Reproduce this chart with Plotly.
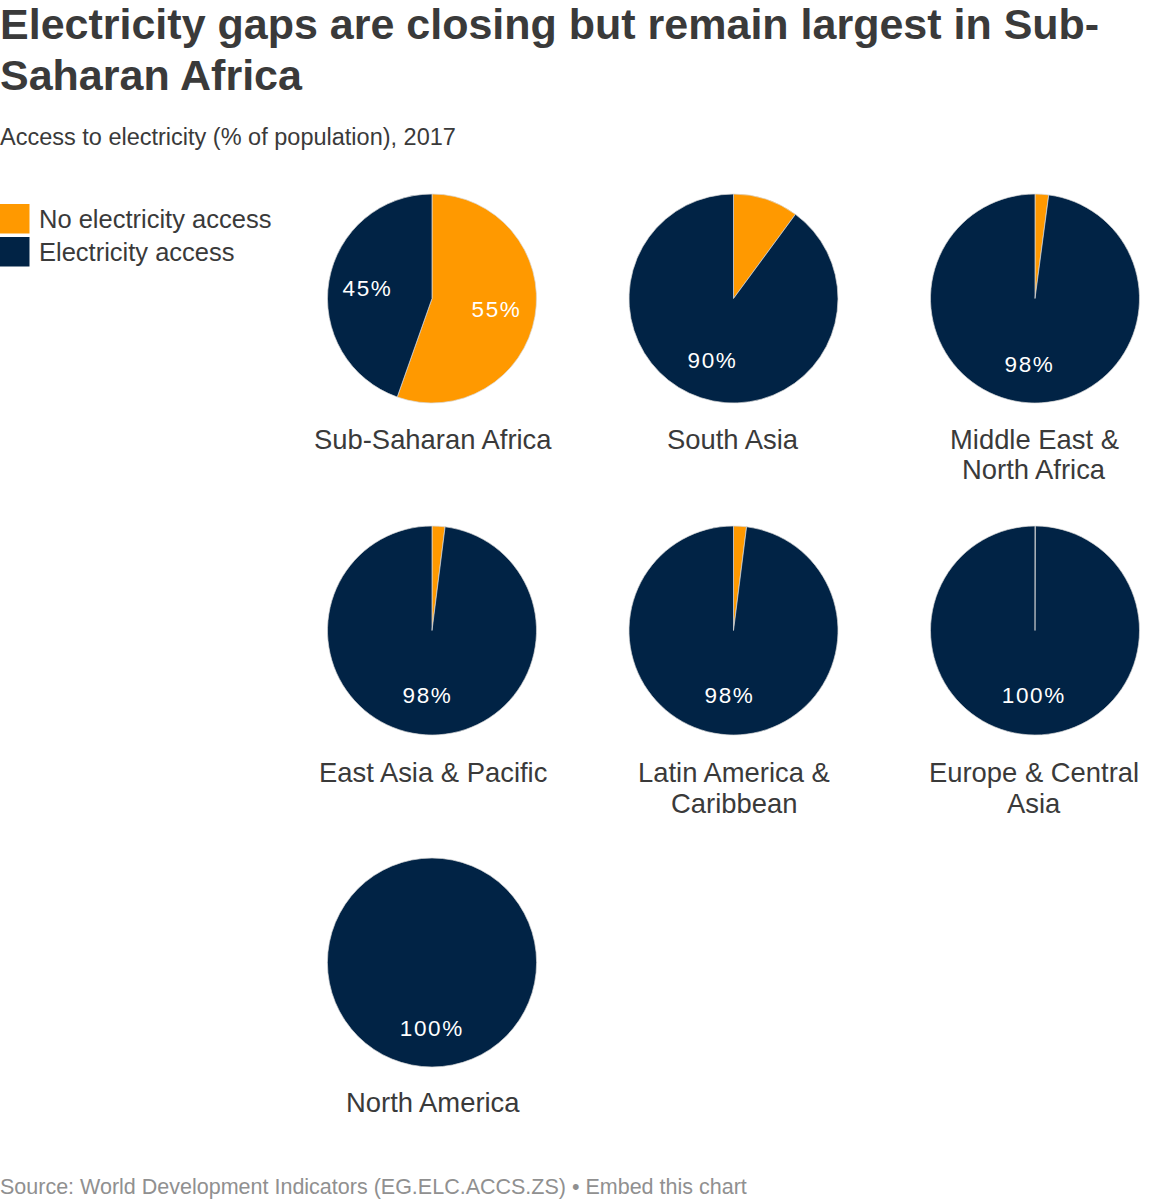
import plotly.graph_objects as go

region_lines = [["Sub-Saharan Africa"], ["South Asia"], ["Middle East &", "North Africa"], ["East Asia & Pacific"],
                ["Latin America &", "Caribbean"], ["Europe & Central", "Asia"], ["North America"]]
no_access = [55.4, 10.1, 2.1, 2, 2, 0.05, 0]
access = [44.6, 89.9, 97.9, 98, 98, 99.95, 100]
value_labels = [["55%", "45%"], ["90%"], ["98%"], ["98%"], ["98%"], ["100%"], ["100%"]]
series_names = ["No electricity access", "Electricity access"]
colors = ["#ff9900", "#012345"]

W, H = 1175, 1200
centers = [(432, 298.5), (733.5, 298.5), (1035, 298.5), (432, 630.5), (733.5, 630.5), (1035, 630.5), (432, 962.5)]
label_xy = [[(496.5, 310), (367.5, 288)], [(712.5, 361)], [(1029.5, 364)], [(427.5, 695)], [(729, 695)], [(1034, 695)], [(432, 1028)]]
caption_x = [432.5, 733, 1034, 432.5, 733.5, 1034, 432.5]
caption_y = [439, 439, 439, 772, 772, 772, 1102]
R = 104.5


def note(x, y, text, size, color, anchor="center", family="Liberation Sans"):
    fig.add_annotation(x=x / W, y=1 - y / H, xref="paper", yref="paper", text=text, showarrow=False,
                       xanchor=anchor, yanchor="middle", align=anchor,
                       font=dict(size=size, color=color, family=family))


fig = go.Figure()
for i, (cx, cy) in enumerate(centers):
    fig.add_trace(go.Pie(
        labels=series_names, values=[no_access[i], access[i]],
        textinfo="none", sort=False, direction="clockwise", rotation=0,
        marker=dict(colors=colors, line=dict(color="#d9d9d9", width=0.7)),
        domain=dict(x=[(cx - R) / W, (cx + R) / W], y=[1 - (cy + R) / H, 1 - (cy - R) / H]),
        showlegend=False, hoverinfo="label+value",
    ))
    for (lx, ly), t in zip(label_xy[i], value_labels[i]):
        note(lx, ly, t, 22.5, "#ffffff")
    for j, line in enumerate(region_lines[i]):
        note(caption_x[i], caption_y[i] + 31 * j, line, 27.4, "#3a3a3a")

note(-2, 24, "<b>Electricity gaps are closing but remain largest in Sub-</b>", 43, "#3a3a3a", "left")
note(-2, 75, "<b>Saharan Africa</b>", 43, "#3a3a3a", "left")
note(-2, 137, "Access to electricity (% of population), 2017", 23.5, "#3a3a3a", "left")
note(37, 219, series_names[0], 25.5, "#3a3a3a", "left")
note(37, 252, series_names[1], 25.5, "#3a3a3a", "left")
note(-2, 1187, "Source: World Development Indicators (EG.ELC.ACCS.ZS) • Embed this chart", 21.5, "#909090", "left")

for y0, c in [(204, colors[0]), (237, colors[1])]:
    fig.add_shape(type="rect", xref="paper", yref="paper", x0=0, x1=29.5 / W, y0=1 - y0 / H, y1=1 - (y0 + 29.5) / H,
                  fillcolor=c, line_width=0)

fig.update_layout(width=W, height=H, margin=dict(l=0, r=0, t=0, b=0), paper_bgcolor="white",
                  font=dict(family="Liberation Sans"), showlegend=False)
post = """
document.body.style.margin='0';
document.querySelectorAll('.annotation-text').forEach(function(t){
  if((t.style.fill||'').indexOf('255, 255, 255')>=0){t.style.letterSpacing='1.6px';}
});
"""
fig.write_html("out.html", config={"displayModeBar": False}, post_script=post)
